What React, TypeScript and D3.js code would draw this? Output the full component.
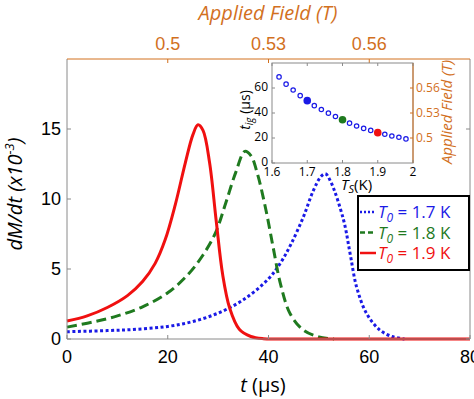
import React from "react";
import { scaleLinear, line, curveCatmullRom } from "d3";

const width = 474;
const height = 399;

// main curves: t (µs) vs dM/dt (x10^-3)
const blueT = [0, 8, 14, 20, 25, 30, 35, 40, 42.5, 44.5, 46.9, 48.9, 50.4, 51.3, 52.4, 54.9, 56.2, 57.5, 59.5, 62.1, 64.5, 67];
const blueV = [0.52, 0.6, 0.7, 0.9, 1.25, 1.85, 2.8, 4.3, 5.5, 6.8, 8.7, 10.6, 11.6, 11.8, 11.2, 8.5, 6.1, 3.7, 1.8, 0.64, 0.18, 0];

const greenT = [0, 5, 10, 15, 20, 24, 27, 29.5, 31.5, 33.5, 35.3, 36.5, 37.8, 39.5, 41, 42.4, 44.3, 46.9, 50, 53];
const greenV = [0.85, 1.2, 1.65, 2.3, 3.3, 4.6, 6.0, 7.6, 9.7, 11.9, 13.4, 13.1, 11.8, 9.2, 6.4, 3.9, 1.8, 0.64, 0.15, 0];

const redT = [0, 4, 8, 12, 15, 17.5, 19.5, 21.5, 23.5, 25, 26, 27, 28.3, 29.6, 30.9, 32.3, 34.2, 36.5, 39, 42, 80];
const redV = [1.28, 1.65, 2.25, 3.1, 4.1, 5.4, 7.1, 9.6, 12.6, 14.6, 15.3, 14.9, 12.6, 8.5, 4.6, 2.2, 0.7, 0.18, 0.02, 0, 0];

// inset: T_S (K) vs t_ig (µs)
const insetT = [1.62, 1.64, 1.66, 1.68, 1.7, 1.72, 1.74, 1.76, 1.78, 1.8, 1.82, 1.84, 1.86, 1.88, 1.9, 1.92, 1.94, 1.96, 1.98];
const insetTig = [68.9, 63.1, 58.4, 53.9, 49.9, 45.9, 42.8, 39.9, 37.2, 34.6, 31.9, 29.6, 27.7, 26.1, 24.3, 23.0, 21.6, 20.6, 19.3];
const highlightT = [1.7, 1.8, 1.9];

const xTicks = [0, 20, 40, 60, 80];
const yTicks = [0, 5, 10, 15];
const fieldTicks = [0.5, 0.53, 0.56];
const insetXTicks = [1.6, 1.7, 1.8, 1.9, 2];
const insetXLabels = ["1.6", "1.7", "1.8", "1.9", "2"];
const insetYTicks = [0, 20, 40, 60];
const legendT0 = ["1.7", "1.8", "1.9"];

const BLUE = "#1a1ae6";
const GREEN = "#1f7a1f";
const RED = "#f01010";
const ORANGE = "#d2701e";
const GRAY = "#8a8a8a";
const colors = [BLUE, GREEN, RED];
const dashes = ["3,2.5", "10,5", null];

const sans = "'Liberation Sans', Arial, sans-serif";
const calib = "'Open Sans', sans-serif";

export default function App() {
  const x = scaleLinear().domain([0, 80]).range([67, 470]);
  const y = scaleLinear().domain([0, 20]).range([339, 59]);
  const fieldX = scaleLinear().domain([0.47, 0.59]).range([67, 470]);

  const ix = scaleLinear().domain([1.6, 2]).range([272, 413]);
  const iy = scaleLinear().domain([0, 80]).range([163, 63]);
  const fieldY = scaleLinear().domain([0.47, 0.59]).range([163, 63]);

  const mk = (ts: number[], vs: number[]) =>
    line<number>()
      .x((d, i) => x(ts[i]))
      .y((d) => y(Math.max(0, d)))
      .curve(curveCatmullRom.alpha(0.5))(vs) as string;

  const series = [mk(blueT, blueV), mk(greenT, greenV), mk(redT, redV)];

  return (
    <svg width={width} height={height} style={{ position: "absolute", left: 0, top: 0, background: "#fff" }}>
      {/* curves */}
      {series.map((d, i) => (
        <path key={i} d={d} fill="none" stroke={colors[i]} strokeWidth={3}
          strokeDasharray={dashes[i] || undefined} />
      ))}

      {/* frame */}
      <line x1={67} x2={67} y1={59} y2={339} stroke={GRAY} />
      <line x1={470} x2={470} y1={59} y2={339} stroke={GRAY} />
      <line x1={67} x2={470} y1={339} y2={339} stroke={GRAY} />
      <line x1={67} x2={470} y1={59} y2={59} stroke={ORANGE} />

      {xTicks.map((t) => (
        <g key={t}>
          <line x1={x(t)} x2={x(t)} y1={339} y2={335} stroke={GRAY} />
          <text x={x(t)} y={363} textAnchor="middle" fontFamily={sans} fontSize={18}>{t}</text>
        </g>
      ))}
      {yTicks.map((v) => (
        <g key={v}>
          <line x1={67} x2={71} y1={y(v)} y2={y(v)} stroke={GRAY} />
          <line x1={470} x2={466} y1={y(v)} y2={y(v)} stroke={GRAY} />
          <text x={61} y={y(v)} dy="0.36em" textAnchor="end" fontFamily={sans} fontSize={18}>{v}</text>
        </g>
      ))}
      {fieldTicks.map((f) => (
        <g key={f}>
          <line x1={fieldX(f)} x2={fieldX(f)} y1={59} y2={63} stroke={ORANGE} />
          <text x={fieldX(f)} y={50} textAnchor="middle" fontFamily={sans} fontSize={18} fill={ORANGE}>{f}</text>
        </g>
      ))}

      <text x={268} y={20} textAnchor="middle" fontFamily={calib} fontStyle="italic" fontSize={20} fill={ORANGE}>
        Applied Field (T)
      </text>
      <text x={263} y={392} textAnchor="middle" fontFamily={calib} fontSize={20}>
        <tspan fontStyle="italic">t</tspan> (μs)
      </text>
      <text transform="translate(22,194) rotate(-90)" textAnchor="middle" fontFamily={calib} fontStyle="italic" fontSize={20}>
        dM/dt (x10<tspan dy={-8} fontSize={13}>-3</tspan><tspan dy={8}>)</tspan>
      </text>

      {/* inset */}
      <rect x={272} y={63} width={141} height={100} fill="#fff" stroke={GRAY} />
      <line x1={413} x2={413} y1={63} y2={163} stroke={ORANGE} />
      {insetXTicks.map((t, i) => (
        <g key={t}>
          <line x1={ix(t)} x2={ix(t)} y1={163} y2={160} stroke={GRAY} />
          <line x1={ix(t)} x2={ix(t)} y1={63} y2={66} stroke={GRAY} />
          <text x={ix(t)} y={176} textAnchor="middle" fontFamily={calib} fontSize={12}>{insetXLabels[i]}</text>
        </g>
      ))}
      {insetYTicks.map((v) => (
        <g key={v}>
          <line x1={272} x2={275} y1={iy(v)} y2={iy(v)} stroke={GRAY} />
          <text x={268} y={iy(v) - 1} dy="0.36em" textAnchor="end" fontFamily={calib} fontSize={12}>{v}</text>
        </g>
      ))}
      {fieldTicks.map((f) => (
        <g key={f}>
          <line x1={413} x2={410} y1={fieldY(f)} y2={fieldY(f)} stroke={ORANGE} />
          <text x={416} y={fieldY(f)} dy="0.36em" fontFamily={calib} fontSize={12} fill={ORANGE}>{f}</text>
        </g>
      ))}
      <text transform="translate(250,110) rotate(-90)" textAnchor="middle" fontFamily={calib} fontSize={14}>
        <tspan fontStyle="italic">t</tspan><tspan fontStyle="italic" fontSize={10} dy={3}>ig</tspan><tspan dy={-3}> (μs)</tspan>
      </text>
      <text transform="translate(452,112) rotate(-90)" textAnchor="middle" fontFamily={calib} fontStyle="italic" fontSize={15} fill={ORANGE}>
        Applied Field (T)
      </text>
      <text x={341} y={190} fontFamily={calib} fontSize={15}>
        <tspan fontStyle="italic">T</tspan><tspan fontStyle="italic" fontSize={11} dy={3}>S</tspan><tspan dy={-3}>(K)</tspan>
      </text>
      {insetT.map((t, i) => {
        const h = highlightT.findIndex((v) => Math.abs(v - t) < 1e-6);
        return h >= 0 ? (
          <circle key={t} cx={ix(t)} cy={iy(insetTig[i])} r={3.8} fill={colors[h]} />
        ) : (
          <circle key={t} cx={ix(t)} cy={iy(insetTig[i])} r={2.2} fill="none" stroke={BLUE} strokeWidth={1.2} />
        );
      })}

      {/* legend */}
      <rect x={358} y={196} width={111} height={74} fill="#fff" stroke="#000" strokeWidth={2} />
      {legendT0.map((v, i) => {
        const cy = 212 + i * 20.5;
        return (
          <g key={v}>
            <line x1={360} x2={376} y1={cy} y2={cy} stroke={colors[i]} strokeWidth={2.5}
              strokeDasharray={i === 0 ? "2,2" : i === 1 ? "5,3" : undefined} />
            <text x={378} y={cy} dy="0.36em" fontFamily={calib} fontSize={17} fill={colors[i]}>
              <tspan fontStyle="italic">T</tspan><tspan fontStyle="italic" fontSize={12} dy={4}>0</tspan>
              <tspan dy={-4}>{` = ${v} K`}</tspan>
            </text>
          </g>
        );
      })}
    </svg>
  );
}
